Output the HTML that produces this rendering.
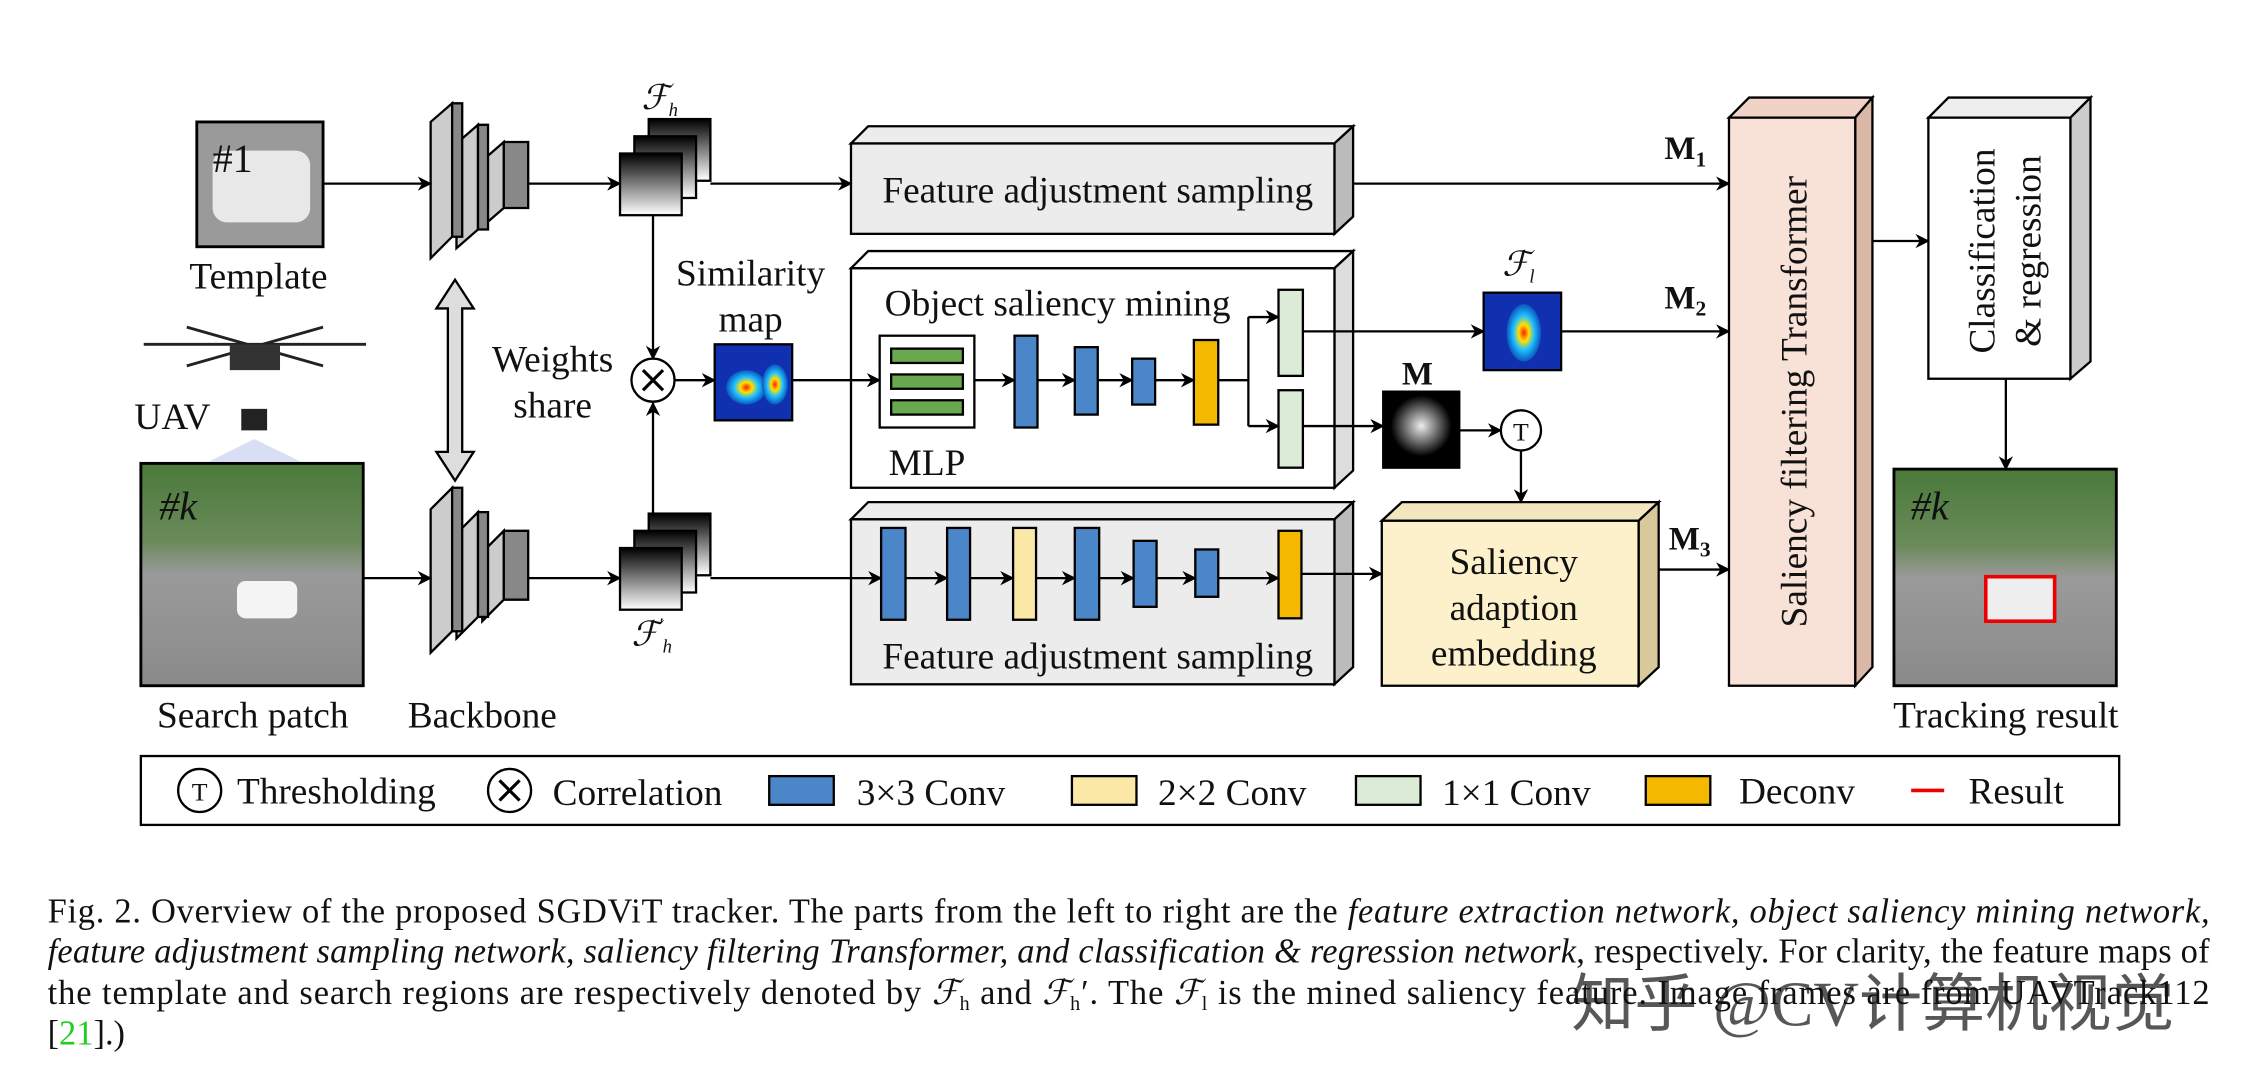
<!DOCTYPE html>
<html><head><meta charset="utf-8"><style>
html,body{margin:0;padding:0;background:#fff;width:2250px;height:1086px;overflow:hidden}
svg{display:block}
text{font-family:"Liberation Serif",serif;fill:#111}
</style></head><body>
<svg width="2250" height="1086" viewBox="0 0 1568 757" xmlns="http://www.w3.org/2000/svg">
<defs>
<marker id="a" markerWidth="10" markerHeight="10" refX="9" refY="5" orient="auto" markerUnits="userSpaceOnUse"><path d="M0,0 L10,5 L0,10 L3,5 z" fill="#000"/></marker>
<linearGradient id="g" x1="0" y1="0" x2="0" y2="1"><stop offset="0" stop-color="#000"/><stop offset="1" stop-color="#fff"/></linearGradient>
<radialGradient id="hm" cx="0.5" cy="0.5" r="0.6"><stop offset="0" stop-color="#ff2000"/><stop offset="0.25" stop-color="#ffe000"/><stop offset="0.5" stop-color="#20c0ff"/><stop offset="1" stop-color="#0020a0"/></radialGradient>
<radialGradient id="bw" cx="0.5" cy="0.45" r="0.4"><stop offset="0" stop-color="#eee"/><stop offset="1" stop-color="#000"/></radialGradient>
<linearGradient id="road" x1="0" y1="0" x2="0" y2="1"><stop offset="0" stop-color="#4a7a3a"/><stop offset="0.35" stop-color="#6a8a5a"/><stop offset="0.5" stop-color="#9a9a9a"/><stop offset="1" stop-color="#8a8a8a"/></linearGradient>
</defs>
<g stroke="#000" stroke-width="1.6" fill="none">
<rect x="137" y="85" width="88" height="87" fill="#9a9a9a" stroke-width="2"/>
<rect x="148" y="105" width="68" height="50" rx="10" fill="#e8e8e8" stroke="none"/>
<rect x="98" y="323" width="155" height="155" fill="url(#road)" stroke-width="2"/>
<rect x="165" y="405" width="42" height="26" rx="6" fill="#f4f4f4" stroke="none"/>
<rect x="1320" y="327" width="155" height="151" fill="url(#road)" stroke-width="2"/>
<rect x="1384" y="402" width="48" height="31" fill="#eee" stroke="#e00" stroke-width="2.5"/>
<path d="M100,240 L255,240 M130,228 L225,255 M225,228 L130,255" stroke="#222" stroke-width="2"/>
<rect x="160" y="240" width="35" height="18" fill="#333" stroke="none"/>
<rect x="168" y="285" width="18" height="15" fill="#222" stroke="none"/>
<path d="M145,322 L177,306 L210,322 z" fill="#d8dff5" stroke="none"/>
<g fill="#ccc">
<path d="M300,85 L315,72 L315,165 L300,180 z"/><path d="M318,100 L333,87 L333,160 L318,173 z"/><path d="M336,112 L351,99 L351,145 L336,158 z"/>
<path d="M300,355 L315,340 L315,440 L300,455 z"/><path d="M318,372 L333,357 L333,430 L318,445 z"/><path d="M336,385 L351,370 L351,418 L336,433 z"/>
</g>
<g fill="#888"><path d="M315,72 L322,72 L322,165 L315,165z"/><path d="M333,87 L340,87 L340,160 L333,160z"/><path d="M351,99 L368,99 L368,145 L351,145z"/>
<path d="M315,340 L322,340 L322,440 L315,440z"/><path d="M333,357 L340,357 L340,430 L333,430z"/><path d="M351,370 L368,370 L368,418 L351,418z"/></g>
<path d="M317,195 L330,215 L322,215 L322,315 L330,315 L317,335 L304,315 L312,315 L312,215 L304,215 z" fill="#ddd"/>
<rect x="452" y="83" width="43" height="43" fill="url(#g)"/><rect x="442" y="95" width="43" height="43" fill="url(#g)"/><rect x="432" y="107" width="43" height="43" fill="url(#g)"/>
<rect x="452" y="358" width="43" height="43" fill="url(#g)"/><rect x="442" y="370" width="43" height="43" fill="url(#g)"/><rect x="432" y="382" width="43" height="43" fill="url(#g)"/>
<circle cx="455" cy="265" r="15" fill="#fff"/><path d="M448,258 L462,272 M462,258 L448,272" stroke-width="2.2"/>
<rect x="498" y="240" width="54" height="53" fill="#1030b0"/>
<ellipse cx="520" cy="270" rx="14" ry="12" fill="url(#hm)" stroke="none"/><ellipse cx="540" cy="268" rx="9" ry="14" fill="url(#hm)" stroke="none"/>
<rect x="1034" y="204" width="54" height="54" fill="#1030b0"/><ellipse cx="1062" cy="232" rx="12" ry="20" fill="url(#hm)" stroke="none"/>
<rect x="964" y="273" width="53" height="53" fill="url(#bw)"/>
<g fill="#ececec">
<path d="M593,100 L605,88 L943,88 L930,100 z"/><path d="M930,100 L943,88 L943,151 L930,163 z" fill="#bbb"/><rect x="593" y="100" width="337" height="63"/>
<path d="M593,187 L605,175 L943,175 L930,187 z" fill="#fff"/><path d="M930,187 L943,175 L943,328 L930,340 z" fill="#ddd"/><rect x="593" y="187" width="337" height="153" fill="#fff"/>
<path d="M593,362 L605,350 L943,350 L930,362 z"/><path d="M930,362 L943,350 L943,465 L930,477 z" fill="#bbb"/><rect x="593" y="362" width="337" height="115"/>
</g>
<path d="M963,363 L977,350 L1156,350 L1142,363 z" fill="#f3e6bf"/><path d="M1142,363 L1156,350 L1156,465 L1142,478 z" fill="#d9c99a"/><rect x="963" y="363" width="179" height="115" fill="#fdf1cc"/>
<path d="M1205,82 L1219,68 L1305,68 L1293,82 z" fill="#f0d3c6"/><path d="M1293,82 L1305,68 L1305,465 L1293,478 z" fill="#d9b8a8"/><rect x="1205" y="82" width="88" height="396" fill="#f8e1d6"/>
<path d="M1344,82 L1358,68 L1457,68 L1443,82 z" fill="#eee"/><path d="M1443,82 L1457,68 L1457,252 L1443,264 z" fill="#ccc"/><rect x="1344" y="82" width="99" height="182" fill="#fff"/>
<rect x="613" y="234" width="66" height="64" fill="#fff"/>
<g fill="#6aa84f"><rect x="621" y="243" width="50" height="10"/><rect x="621" y="261" width="50" height="10"/><rect x="621" y="279" width="50" height="10"/></g>
<g fill="#4a86c8"><rect x="707" y="234" width="16" height="64"/><rect x="749" y="242" width="16" height="47"/><rect x="789" y="250" width="16" height="32"/>
<rect x="614" y="368" width="17" height="64"/><rect x="660" y="368" width="16" height="64"/><rect x="749" y="368" width="17" height="64"/><rect x="790" y="377" width="16" height="46"/><rect x="833" y="383" width="16" height="33"/></g>
<g fill="#f5b800"><rect x="832" y="237" width="17" height="59"/><rect x="891" y="370" width="16" height="61"/></g>
<rect x="706" y="368" width="16" height="64" fill="#fbe7a6"/>
<g fill="#dcebd6"><rect x="891" y="202" width="17" height="60"/><rect x="891" y="272" width="17" height="54"/></g>
<circle cx="1060" cy="300" r="14" fill="#fff"/>
<g marker-end="url(#a)">
<path d="M225,128 L300,128"/><path d="M368,128 L432,128"/><path d="M495,128 L593,128"/><path d="M943,128 L1205,128"/>
<path d="M455,150 L455,250"/><path d="M455,358 L455,281"/><path d="M470,265 L498,265"/><path d="M552,265 L613,265"/>
<path d="M679,265 L707,265"/><path d="M723,265 L749,265"/><path d="M765,265 L789,265"/><path d="M805,265 L832,265"/>
<path d="M870,221 L891,221"/><path d="M870,297 L891,297"/><path d="M908,231 L1034,231"/><path d="M1088,231 L1205,231"/>
<path d="M908,297 L964,297"/><path d="M1017,300 L1046,300"/><path d="M1060,314 L1060,350"/>
<path d="M253,403 L300,403"/><path d="M368,403 L432,403"/><path d="M495,403 L614,403"/>
<path d="M631,403 L660,403"/><path d="M676,403 L706,403"/><path d="M722,403 L749,403"/><path d="M766,403 L790,403"/><path d="M806,403 L833,403"/><path d="M849,403 L891,403"/><path d="M907,400 L963,400"/>
<path d="M1156,397 L1205,397"/><path d="M1305,168 L1344,168"/><path d="M1398,264 L1398,327"/>
</g>
<path d="M849,265 L870,265 M870,221 L870,297"/>
<rect x="98" y="527" width="1379" height="48" fill="#fff"/>
<circle cx="139" cy="551" r="15" fill="#fff"/><circle cx="355" cy="551" r="15" fill="#fff"/><path d="M348,544 L362,558 M362,544 L348,558" stroke-width="2.2"/>
<rect x="536" y="541" width="45" height="20" fill="#4a86c8"/><rect x="747" y="541" width="45" height="20" fill="#fbe7a6"/><rect x="945" y="541" width="45" height="20" fill="#dcebd6"/><rect x="1147" y="541" width="45" height="20" fill="#f5b800"/>
<path d="M1332,551 L1355,551" stroke="#e00" stroke-width="2.5"/>
</g>
<g font-size="26" text-anchor="middle">
<text x="180" y="201">Template</text><text x="120" y="299">UAV</text><text x="176" y="507">Search patch</text><text x="336" y="507">Backbone</text><text x="1398" y="507">Tracking result</text>
<text x="385" y="259">Weights</text><text x="385" y="291">share</text><text x="523" y="199">Similarity</text><text x="523" y="231">map</text>
<text x="765" y="141">Feature adjustment sampling</text><text x="765" y="466">Feature adjustment sampling</text>
<text x="737" y="220">Object saliency mining</text><text x="646" y="331">MLP</text>
<text x="1055" y="400">Saliency</text><text x="1055" y="432">adaption</text><text x="1055" y="464">embedding</text>
<text transform="translate(1259,280) rotate(-90)">Saliency filtering Transformer</text>
<text transform="translate(1390,175) rotate(-90)">Classification</text><text transform="translate(1422,175) rotate(-90)">&amp; regression</text>
<text x="139" y="558" font-size="18">T</text><text x="1060" y="307" font-size="18">T</text>
<text x="162" y="120" fill="#ff0" font-size="28">#1</text><text x="124" y="362" fill="#ff0" font-size="28" font-style="italic">#k</text><text x="1345" y="362" fill="#ff0" font-size="28" font-style="italic">#k</text>
</g>
<g font-size="23" font-weight="bold"><text x="1160" y="111">M<tspan font-size="15" dy="5">1</tspan></text><text x="1160" y="215">M<tspan font-size="15" dy="5">2</tspan></text><text x="1163" y="383">M<tspan font-size="15" dy="5">3</tspan></text><text x="977" y="268">M</text></g>
<g font-size="24" font-style="italic"><text x="447" y="76">ℱ<tspan font-size="13" dy="5">h</tspan></text><text x="440" y="450">ℱ<tspan font-size="13" dy="-10">′</tspan><tspan font-size="13" dy="15">h</tspan></text><text x="1047" y="192">ℱ<tspan font-size="13" dy="5">l</tspan></text></g>
<g font-size="26">
<text x="165" y="560">Thresholding</text><text x="385" y="561">Correlation</text><text x="597" y="561">3×3  Conv</text><text x="807" y="561">2×2 Conv</text><text x="1005" y="561">1×1 Conv</text><text x="1212" y="560">Deconv</text><text x="1372" y="560">Result</text>
</g>
<g font-size="24">
<text x="33" y="643" textLength="1507" lengthAdjust="spacing">Fig. 2.     Overview of the proposed SGDViT tracker. The parts from the left to right are the <tspan font-style="italic">feature extraction network, object saliency mining network,</tspan></text>
<text x="33" y="671" textLength="1507" lengthAdjust="spacing"><tspan font-style="italic">feature adjustment sampling network, saliency filtering Transformer, and classification &amp; regression network</tspan>, respectively. For clarity, the feature maps of</text>
<text x="33" y="700" textLength="1507" lengthAdjust="spacing">the template and search regions are respectively denoted by <tspan font-style="italic">ℱ</tspan><tspan font-size="14" dy="4">h</tspan><tspan dy="-4"> and </tspan><tspan font-style="italic">ℱ</tspan><tspan font-size="14" dy="4">h</tspan><tspan dy="-4">′. The </tspan><tspan font-style="italic">ℱ</tspan><tspan font-size="14" dy="4">l</tspan><tspan dy="-4"> is the mined saliency feature. Image frames are from UAVTrack112</tspan></text>
<text x="33" y="728">[<tspan fill="#2c2">21</tspan>].)</text>
</g>
<text x="1095" y="715" font-size="44" fill="#ccc" font-family="'Liberation Sans','Noto Sans CJK SC',sans-serif" opacity="0.7">知乎 @CV计算机视觉</text>
</svg>
</body></html>
